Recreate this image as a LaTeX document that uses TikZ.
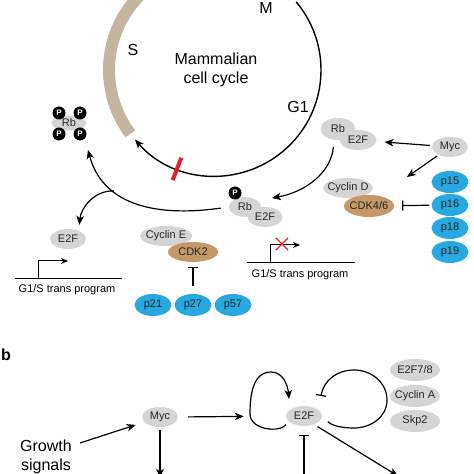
\documentclass[tikz,border=0pt]{standalone}
\usepackage{fontspec}
\setmainfont{Liberation Sans}
\usetikzlibrary{arrows.meta,shapes.geometric}
\definecolor{protgray}{RGB}{213,213,213}
\definecolor{kinbrown}{RGB}{198,152,104}
\definecolor{inhblue}{RGB}{40,168,224}
\definecolor{sbeige}{RGB}{196,182,158}
\definecolor{blockred}{RGB}{228,32,44}
\tikzset{
  prot/.style={ellipse, fill=protgray, text=black!85, inner xsep=-3pt, inner ysep=0pt,
    minimum width=36pt, minimum height=20pt, font=\fontsize{11}{13}\selectfont},
  kin/.style={prot, fill=kinbrown},
  inhib/.style={prot, fill=inhblue, minimum width=37pt, minimum height=22pt},
  phos/.style={circle, fill=black, text=white, inner sep=0pt, minimum size=13pt,
    font=\fontsize{8}{9}\selectfont\bfseries},
  big/.style={font=\fontsize{16}{19}\selectfont},
  gene/.style={font=\fontsize{11}{13}\selectfont},
  act/.style={line width=1.2pt, -{Stealth[length=9pt,width=7.5pt,inset=2.5pt]}},
  prom/.style={line width=1pt, -{Stealth[length=7pt,width=6pt,inset=2pt]}},
  blk/.style={line width=1.2pt, -{Bar[width=10pt]}},
}
\begin{document}
\begin{tikzpicture}[x=1pt,y=1pt]
  \useasboundingbox (0,0) rectangle (474,474);
  \clip (0,0) rectangle (474,474);
  % panel a: cycle
  \coordinate (cc) at (215,404);
  \draw[sbeige, line width=12pt] ([shift={(105:106)}]cc) arc[start angle=105, end angle=217, radius=106];
  \draw[sbeige, line width=4pt] ([shift={(43:104)}]cc) arc[start angle=43, end angle=46, radius=104];
  \draw[act, line width=1.4pt] ([shift={(40:106)}]cc) arc[start angle=40, end angle=-139, radius=106];
  \draw[blockred, line width=4pt] ([shift={(-111:94)}]cc) -- ([shift={(-111:118)}]cc);
  \node[big] (sl) at (133,424) {S};
  \node[big] (ml) at (266,466) {M};
  \node[big] (gl) at (298,367) {G1};
  \node[big, align=center] (title) at (216,404) {Mammalian\\cell cycle};
  % panel a: proteins
  \node[prot, minimum width=35pt, minimum height=15pt] (rbpp) at (69,351) {Rb};
  \foreach \dx/\dy [count=\i] in {-10/10, 11/10, -10/-11, 11/-11}
    \node[phos] (pp\i) at ([shift={(\dx,\dy)}]rbpp) {P};
  \node[prot, minimum width=35pt, minimum height=22pt] (rbg) at (338,345) {Rb};
  \node[prot, minimum width=37pt] (efg) at (358,334) {E2F};
  \node[prot] (myca) at (450,327) {Myc};
  \node[prot, minimum width=47pt] (cycd) at (348,286) {Cyclin D};
  \node[kin, minimum width=50pt, minimum height=22pt] (cdkd) at (369,268) {CDK4/6};
  \foreach \n/\y in {15/292, 16/269, 18/246, 19/222}
    \node[inhib] (p\n) at (450,\y) {p\n};
  \node[prot, minimum width=32pt] (rbp) at (245,267) {Rb};
  \node[prot, minimum width=35pt] (efp) at (265,257) {E2F};
  \node[phos] (pone) at (235,281) {P};
  \node[prot] (efree) at (68,235) {E2F};
  \node[prot, minimum width=52pt] (cyce) at (166,238) {Cyclin E};
  \node[kin, minimum width=50pt] (cdke) at (193,222) {CDK2};
  \foreach \n/\x in {21/153, 27/193, 57/233}
    \node[inhib] (p\n) at (\x,169) {p\n};
  % promoters
  \draw[line width=1pt] (15,195) -- (122,195);
  \draw[prom] (38,195) -- (38,213) -- (68,213);
  \node[gene] (gsleft) at (67,184) {G1/S trans program};
  \draw[line width=1pt] (247,211) -- (355,211);
  \draw[prom] (270,211) -- (270,229) -- (300,229);
  \draw[blockred, line width=1.3pt] (276,224) -- (288,236) (276,236) -- (288,224);
  \node[gene] (gsright) at (300,199) {G1/S trans program};
  % panel a: connectors
  \coordinate (ppend) at (88,324);
  \coordinate (rbto) at (272,276);
  \coordinate (mycto) at (407,297);
  \draw[act, shorten <=8pt] (rbp.west) .. controls (150,256) and (102,272) .. (ppend) coordinate[pos=0.66] (br);
  \draw[act, shorten >=4pt] (br) to[out=178, in=85] ([xshift=11pt]efree.north);
  \draw[act, shorten <=7pt] (rbg.250) to[out=-95, in=10] (rbto);
  \draw[act, shorten <=2pt, shorten >=8pt] (myca) -- (efg);
  \draw[act, shorten <=2pt] (myca) -- (mycto);
  \draw[blk, shorten <=2pt, shorten >=8pt] (p16) -- (cdkd);
  \draw[blk, shorten <=8pt, shorten >=5pt] (p27) -- (cdke);
  % panel b
  \node[font=\fontsize{16}{19}\selectfont\bfseries] (panelb) at (6,119) {b};
  \node[prot] (mycb) at (160,57) {Myc};
  \node[prot] (efb) at (304,58) {E2F};
  \node[big, align=center] (growth) at (46,17) {Growth\\signals};
  \node[prot, minimum width=50pt, minimum height=22pt] (efse) at (415,104) {E2F7/8};
  \node[prot, minimum width=50pt, minimum height=22pt] (cyca) at (415,78) {Cyclin A};
  \node[prot, minimum width=50pt, minimum height=22pt] (skp) at (415,53) {Skp2};
  \coordinate (gsig) at (80,31);
  \coordinate (mycdown) at (160,-4);
  \coordinate (efdown) at (398,-2);
  \coordinate (efup) at (304,-4);
  \coordinate (lpend) at (289,75);
  \coordinate (rpend) at (321,78);
  \draw[act, shorten >=9pt] (gsig) -- (mycb);
  \draw[act, shorten <=10pt, shorten >=42pt] (mycb.east) -- (efb.west);
  \draw[act, shorten <=3pt] (mycb) -- (mycdown);
  \draw[act, shorten <=4pt] (efb.200) to[out=230, in=-90] (250,60) to[out=90, in=180] (271,102) to[out=0, in=95] (lpend);
  \draw[blk, shorten <=8pt] (efb.east) to[out=-45, in=180] (354,46) to[out=0, in=-90] (387,74) to[out=90, in=0] (354,104) to[out=180, in=80] (rpend);
  \draw[act, shorten <=4pt] (efb.-40) -- (efdown);
  \draw[blk, shorten >=9pt] (efup) -- (efb);
\end{tikzpicture}
\end{document}
